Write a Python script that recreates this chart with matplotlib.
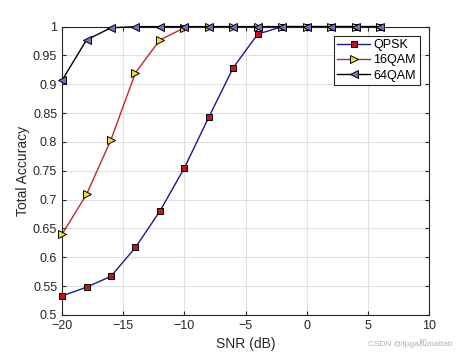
import matplotlib
matplotlib.use("Agg")
import matplotlib.pyplot as plt

plt.rcParams['font.family'] = ['Liberation Sans', 'Noto Sans CJK SC', 'DejaVu Sans']

snr = [-20, -18, -16, -14, -12, -10, -8, -6, -4, -2, 0, 2, 4, 6]
qpsk = [0.533, 0.548, 0.567, 0.617, 0.680, 0.755, 0.843, 0.929, 0.987, 1, 1, 1, 1, 1]
qam16 = [0.640, 0.709, 0.804, 0.920, 0.977, 0.998, 1, 1, 1, 1, 1, 1, 1, 1]
qam64 = [0.907, 0.977, 0.998, 1, 1, 1, 1, 1, 1, 1, 1, 1, 1, 1]

xticks = [-20, -15, -10, -5, 0, 5, 10]
yticks = [0.5, 0.55, 0.6, 0.65, 0.7, 0.75, 0.8, 0.85, 0.9, 0.95, 1]
ytick_labels = ['0.5', '0.55', '0.6', '0.65', '0.7', '0.75', '0.8', '0.85', '0.9', '0.95', '1']

fig = plt.figure(figsize=(4.74, 3.55), dpi=100)
ax = fig.add_axes([0.131, 0.113, 0.774, 0.812])

ax.plot(snr, qpsk, color='#1a1a8c', lw=1, marker='s', ms=4,
        mfc='#c0141e', mec='black', mew=0.7, label='QPSK', clip_on=False, zorder=3)
ax.plot(snr, qam16, color='#c0282d', lw=1, marker='>', ms=5.5,
        mfc='#e8e040', mec='black', mew=0.7, label='16QAM', clip_on=False, zorder=3)
ax.plot(snr, qam64, color='black', lw=1, marker='<', ms=5.5,
        mfc='#7a6cc8', mec='black', mew=0.7, label='64QAM', clip_on=False, zorder=3)

ax.set_xlim(-20, 10)
ax.set_ylim(0.5, 1)
ax.set_xticks(xticks)
ax.set_yticks(yticks)
ax.set_yticklabels(ytick_labels)
ax.grid(True, color='#e0e0e0', lw=0.8)
ax.set_axisbelow(True)
ax.tick_params(direction='in', top=True, right=True, labelsize=9, colors='#262626', length=3)
for s in ax.spines.values():
    s.set_color('#262626')
    s.set_linewidth(0.8)

ax.set_xlabel('SNR (dB)', fontsize=10, color='#262626')
ax.set_ylabel('Total Accuracy', fontsize=10, color='#262626', labelpad=2)

leg = ax.legend(loc='upper right', bbox_to_anchor=(0.975, 0.969), borderaxespad=0, fontsize=9,
                fancybox=False, edgecolor='#262626', framealpha=1,
                handlelength=2.6, borderpad=0.3, labelspacing=0.25, handletextpad=0.3)
leg.get_frame().set_linewidth(0.8)

fig.text(0.955, 0.02, 'CSDN @fpga和matlab', fontsize=6, color='#b0b0b0', ha='right', va='bottom')

fig.savefig('out.png', dpi=100)
